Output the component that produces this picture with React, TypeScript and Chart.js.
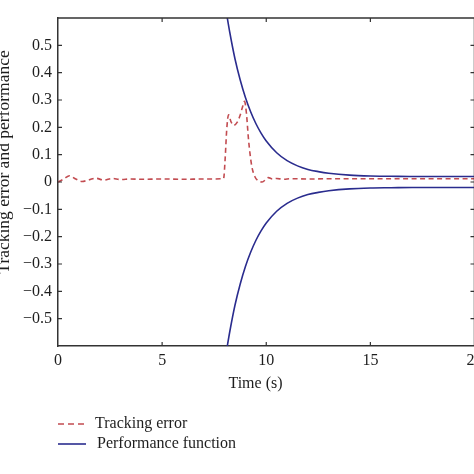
import React, { useEffect, useRef } from "react";
import { Chart, registerables } from "chart.js";

Chart.register(...registerables);

// Tracking error e(t)
const errTime = [0, 0.3, 0.55, 0.85, 1.15, 1.5, 1.8, 2.2, 2.6, 3.0, 3.5, 4, 5, 6, 7, 7.95, 8.03, 8.1, 8.19, 8.3, 8.43, 8.6, 8.75, 8.85, 8.96, 9.05, 9.15, 9.3, 9.45, 9.6, 9.8, 10.1, 10.3, 10.5, 10.8, 11.2, 12, 13, 14, 15, 16, 17, 18, 19, 20];
const errValue = [0, 0.012, 0.023, 0.011, 0.002, 0.008, 0.014, 0.007, 0.013, 0.009, 0.011, 0.01, 0.011, 0.01, 0.011, 0.012, 0.09, 0.19, 0.246, 0.222, 0.207, 0.218, 0.245, 0.272, 0.295, 0.25, 0.154, 0.06, 0.02, 0.005, 0.0, 0.016, 0.011, 0.013, 0.01, 0.012, 0.011, 0.012, 0.012, 0.012, 0.012, 0.012, 0.012, 0.012, 0.012];

// Performance function bounds ±ρ(t)
const perfTime = [8.0, 8.1, 8.25, 8.5, 8.75, 9.0, 9.25, 9.5, 9.75, 10, 10.5, 11, 11.5, 12, 12.5, 13, 14, 15, 16, 17, 18, 19, 20];
const perfUpper = [0.66, 0.614, 0.547, 0.45, 0.373, 0.309, 0.257, 0.214, 0.179, 0.15, 0.107, 0.078, 0.059, 0.046, 0.038, 0.032, 0.025, 0.022, 0.021, 0.02, 0.02, 0.02, 0.02];
const perfLower = [-0.66, -0.614, -0.547, -0.45, -0.373, -0.309, -0.257, -0.214, -0.179, -0.15, -0.107, -0.078, -0.059, -0.046, -0.038, -0.032, -0.025, -0.022, -0.021, -0.02, -0.02, -0.02, -0.02];

const xTicks = [0, 5, 10, 15, 20];
const yTickLimit = 0.55;

const seriesNames = ["Tracking error", "Performance function"];
const xTitle = "Time (s)";
const yTitle = "Tracking error and performance";

const RED = "#c24b50";
const BLUE = "#2a2c8e";
const AXIS = "#333333";
const TEXT = "#1e1e1e";
const FONT = "'Liberation Serif', 'Times New Roman', serif";

const CANVAS_W = 560;
const CANVAS_H = 474;

const fmt = (v: number) => {
  if (Math.abs(v) < 1e-9) return "0";
  const s = Math.abs(v).toFixed(1);
  return v < 0 ? "\u2212" + s : s;
};

const framePlugin = {
  id: "frameAndText",
  afterDraw(chart: any) {
    const { ctx, chartArea, scales } = chart;
    const { left, right, top, bottom } = chartArea;
    ctx.save();
    ctx.strokeStyle = AXIS;
    ctx.lineWidth = 1.5;
    // top and right frame
    ctx.beginPath();
    ctx.moveTo(left, top);
    ctx.lineTo(right, top);
    ctx.lineTo(right, bottom);
    ctx.stroke();
    // inward tick marks
    const tl = 4;
    ctx.lineWidth = 1.2;
    ctx.beginPath();
    for (const t of scales.y.ticks) {
      if (Math.abs(t.value) > yTickLimit) continue;
      const py = scales.y.getPixelForValue(t.value);
      ctx.moveTo(left, py);
      ctx.lineTo(left + tl, py);
      ctx.moveTo(right, py);
      ctx.lineTo(right - tl, py);
    }
    for (const v of xTicks) {
      if (v === 0 || v === 20) continue;
      const px = scales.x.getPixelForValue(v);
      ctx.moveTo(px, bottom);
      ctx.lineTo(px, bottom - tl);
      ctx.moveTo(px, top);
      ctx.lineTo(px, top + tl);
    }
    ctx.stroke();

    // axis titles
    ctx.fillStyle = TEXT;
    ctx.font = `16px ${FONT}`;
    ctx.textAlign = "center";
    ctx.textBaseline = "middle";
    ctx.fillText(xTitle, 255.5, 384);

    ctx.save();
    ctx.translate(9, 162);
    ctx.rotate(-Math.PI / 2);
    ctx.font = `17.5px ${FONT}`;
    ctx.textBaseline = "alphabetic";
    ctx.fillText(yTitle, 0, 0);
    ctx.restore();

    // legend
    ctx.textAlign = "left";
    ctx.textBaseline = "middle";
    ctx.font = `16px ${FONT}`;
    ctx.lineWidth = 1.6;
    ctx.strokeStyle = RED;
    ctx.setLineDash([6, 4]);
    ctx.beginPath();
    ctx.moveTo(58, 424);
    ctx.lineTo(86, 424);
    ctx.stroke();
    ctx.setLineDash([]);
    ctx.strokeStyle = BLUE;
    ctx.beginPath();
    ctx.moveTo(58, 444);
    ctx.lineTo(86, 444);
    ctx.stroke();
    ctx.fillText(seriesNames[0], 95, 424);
    ctx.fillText(seriesNames[1], 97, 444);
    ctx.restore();
  },
};

export default function App() {
  const ref = useRef<HTMLCanvasElement | null>(null);

  useEffect(() => {
    if (!ref.current) return;
    const errData = errTime.map((t, i) => ({ x: t, y: errValue[i] }));
    const upData = perfTime.map((t, i) => ({ x: t, y: perfUpper[i] }));
    const loData = perfTime.map((t, i) => ({ x: t, y: perfLower[i] }));

    const chart = new Chart(ref.current, {
      type: "line",
      data: {
        datasets: [
          {
            label: seriesNames[1],
            data: upData,
            borderColor: BLUE,
            borderWidth: 1.6,
            pointRadius: 0,
            cubicInterpolationMode: "monotone",
          },
          {
            label: seriesNames[1],
            data: loData,
            borderColor: BLUE,
            borderWidth: 1.6,
            pointRadius: 0,
            cubicInterpolationMode: "monotone",
          },
          {
            label: seriesNames[0],
            data: errData,
            borderColor: RED,
            borderWidth: 1.6,
            borderDash: [5, 3.5],
            pointRadius: 0,
            cubicInterpolationMode: "monotone",
          },
        ],
      },
      options: {
        animation: false,
        responsive: false,
        devicePixelRatio: 1,
        layout: { padding: { left: 0, top: 18, right: CANVAS_W - 474.5, bottom: 0 } },
        plugins: { legend: { display: false }, tooltip: { enabled: false } },
        scales: {
          x: {
            type: "linear",
            min: 0,
            max: 20,
            afterBuildTicks: (s: any) => {
              s.ticks = xTicks.map((v) => ({ value: v }));
            },
            ticks: {
              font: { family: FONT, size: 16 },
              color: TEXT,
              padding: 5,
              maxRotation: 0,
              callback: (v: any) => String(v),
            },
            grid: { display: false, drawTicks: false },
            border: { display: true, color: AXIS, width: 1.5 },
            afterFit: (s: any) => {
              s.height = CANVAS_H - 346;
            },
          },
          y: {
            type: "linear",
            min: -0.6,
            max: 0.6,
            ticks: {
              stepSize: 0.1,
              font: { family: FONT, size: 16 },
              color: TEXT,
              padding: 6,
              callback: (v: any) => (Math.abs(v) > yTickLimit ? "" : fmt(v)),
            },
            grid: { display: false, drawTicks: false },
            border: { display: true, color: AXIS, width: 1.5 },
            afterFit: (s: any) => {
              s.width = 58;
            },
          },
        },
      },
      plugins: [framePlugin],
    } as any);
    return () => chart.destroy();
  }, []);

  return (
    <div
      style={{
        position: "fixed",
        left: 0,
        top: 0,
        width: 474,
        height: 474,
        overflow: "hidden",
        background: "#fff",
      }}
    >
      <canvas ref={ref} width={CANVAS_W} height={CANVAS_H} style={{ display: "block" }} />
    </div>
  );
}
